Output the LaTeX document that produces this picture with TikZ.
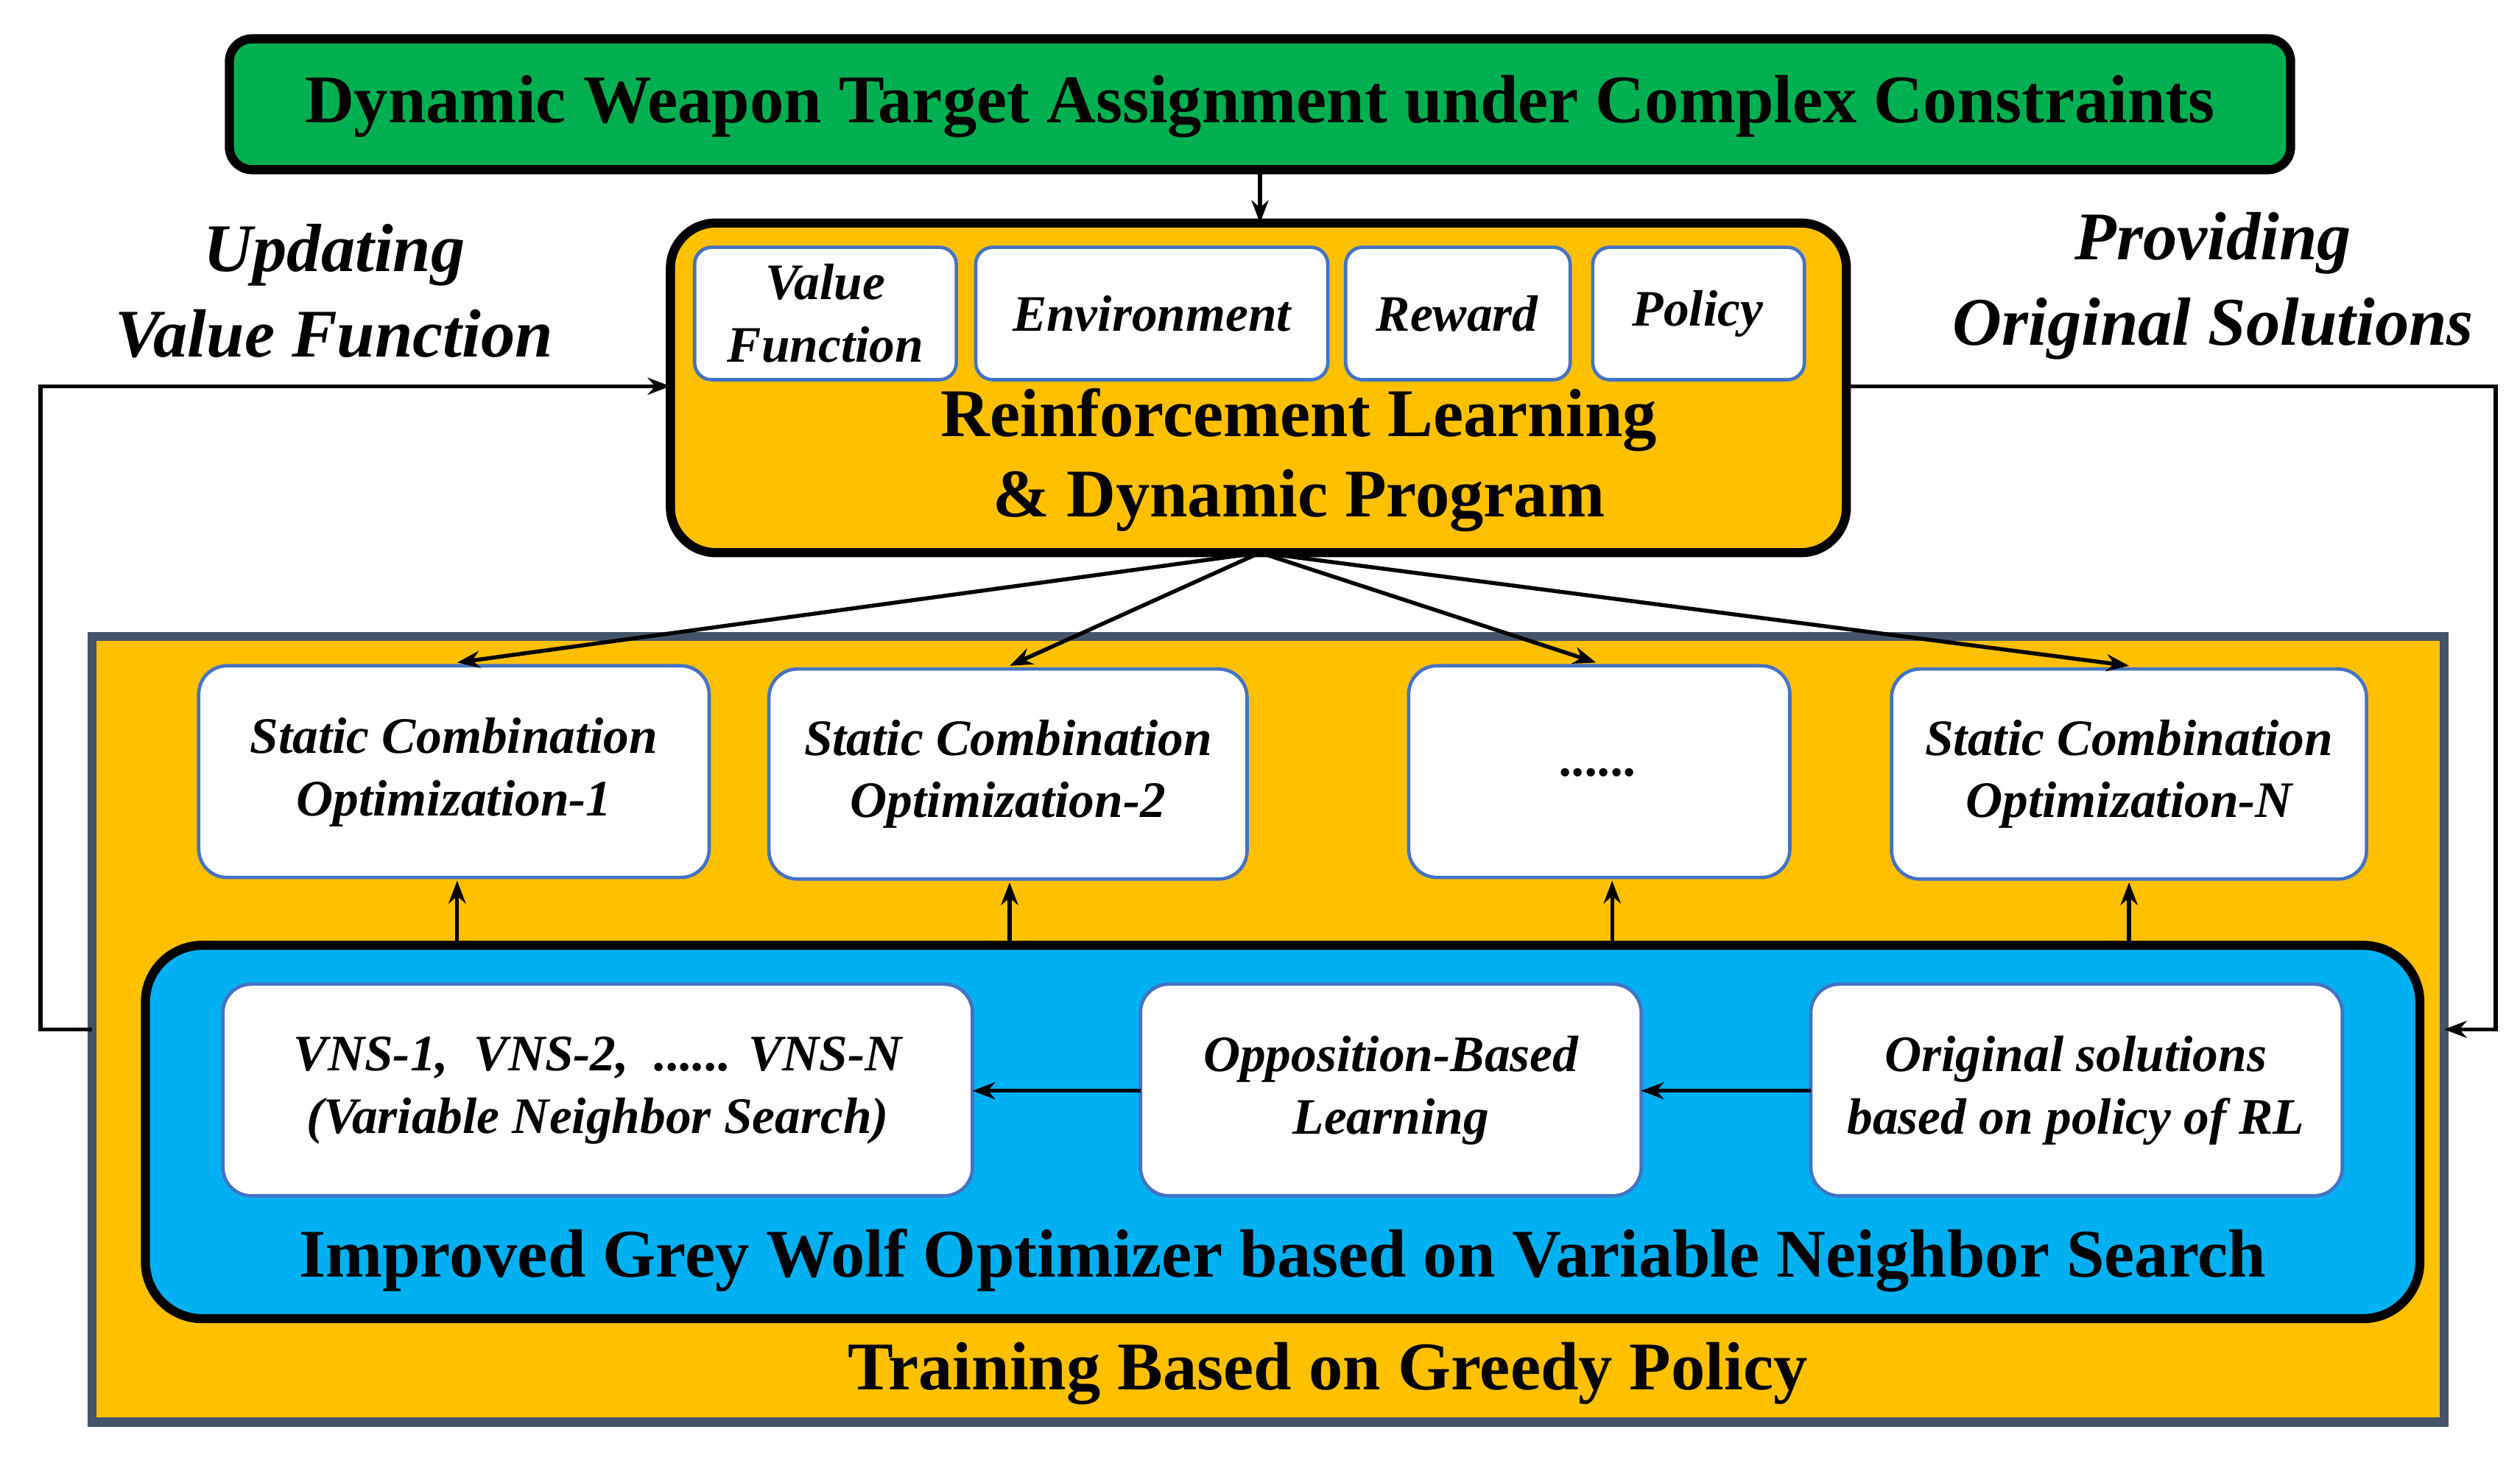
\documentclass[tikz,border=0pt]{standalone}
\usepackage{fontspec}
\setmainfont{Liberation Serif}
\usetikzlibrary{arrows.meta}
\definecolor{tgreen}{RGB}{0,176,80}
\definecolor{torange}{RGB}{255,192,0}
\definecolor{tblue}{RGB}{0,176,240}
\definecolor{tgray}{RGB}{68,84,106}
\definecolor{tedge}{RGB}{68,114,196}
\tikzset{
 box/.style={draw=black,line width=1.6pt,rounded corners=4pt},
 wbox/.style={draw=tedge,line width=0.6pt,fill=white,rounded corners=3pt},
 it/.style={font=\fontsize{9}{11}\selectfont\bfseries\itshape,align=center},
 bigt/.style={font=\fontsize{12}{14.5}\selectfont\bfseries,align=center},
 arr/.style={-{Stealth[length=4pt,width=3pt]},line width=0.7pt},
}
\begin{document}
\begin{tikzpicture}[x=0.01cm,y=-0.01cm]
\useasboundingbox (0,0) rectangle (1560,905);
% title
\draw[box,fill=tgreen] (142,24) rectangle (1418,105);
\node[bigt] (title) at (780,66) {Dynamic Weapon Target Assignment under Complex Constraints};
\coordinate (tb) at (780,105);
% RL box
\draw[box,fill=torange,rounded corners=8pt] (415,138) rectangle (1143,342);
\coordinate (rlt) at (780,138);
\draw[arr] (tb) -- (rlt);
\draw[wbox] (430,153) rectangle (592,235); \node[it] (vf) at (511,194) {Value\\Function};
\draw[wbox] (604,153) rectangle (822,235); \node[it] (env) at (713,194) {Environment};
\draw[wbox] (833,153) rectangle (972,235); \node[it] (rew) at (902,194) {Reward};
\draw[wbox] (986,153) rectangle (1117,235); \node[it] (pol) at (1051,194) {Policy};
\node[bigt] (rl1) at (804,260) {Reinforcement Learning};
\node[bigt] (rl2) at (804,310) {\& Dynamic Program};
% labels
\node[font=\fontsize{12}{15}\selectfont\bfseries\itshape,align=center] (lab1) at (207,180) {Updating\\Value Function};
\node[font=\fontsize{12}{15}\selectfont\bfseries\itshape,align=center] (lab2) at (1370,177) {Providing\\Original Solutions};
% training box
\draw[draw=tgray,line width=1.6pt,fill=torange] (57,394) rectangle (1513,880);
\node[bigt] (train) at (822,850) {Training Based on Greedy Policy};
% static boxes
\draw[wbox,rounded corners=5pt] (123,412) rectangle (439,543); \node[it] (s1) at (281,478) {Static Combination\\Optimization-1};
\draw[wbox,rounded corners=5pt] (476,414) rectangle (772,544); \node[it] (s2) at (624,479) {Static Combination\\Optimization-2};
\draw[wbox,rounded corners=5pt] (872,412) rectangle (1108,543); \node[it] (s3) at (990,478) {......};
\draw[wbox,rounded corners=5pt] (1171,414) rectangle (1465,544); \node[it] (s4) at (1318,479) {Static Combination\\Optimization-N};
\coordinate (rlb) at (780,342);
\draw[arr] (rlb) -- (283,410);
\draw[arr] (rlb) -- (625,412);
\draw[arr] (rlb) -- (988,410);
\draw[arr] (rlb) -- (1318,412);
% blue box
\draw[box,fill=tblue,rounded corners=10pt] (90,585) rectangle (1498,816);
\draw[arr] (283,584) -- (283,545);
\draw[arr] (625,584) -- (625,546);
\draw[arr] (998,584) -- (998,545);
\draw[arr] (1318,584) -- (1318,546);
\draw[wbox,rounded corners=5pt] (138,609) rectangle (602,740); \node[it] (v) at (370,675) {VNS-1,\ \ VNS-2,\ \ ...... VNS-N\\(Variable Neighbor Search)};
\draw[wbox,rounded corners=5pt] (706,609) rectangle (1016,740); \node[it] (o) at (861,675) {Opposition-Based\\Learning};
\draw[wbox,rounded corners=5pt] (1121,609) rectangle (1450,740); \node[it] (r) at (1285,675) {Original solutions\\based on policy of RL};
\draw[arr] (1121,675) -- (1016,675);
\draw[arr] (706,675) -- (602,675);
\node[bigt] (gwo) at (794,780) {Improved Grey Wolf Optimizer based on Variable Neighbor Search};
% feedback lines
\draw[arr] (57,637) -- (25,637) -- (25,239) -- (415,239);
\draw[arr] (1143,239) -- (1545,239) -- (1545,637) -- (1513,637);
\end{tikzpicture}
\end{document}
